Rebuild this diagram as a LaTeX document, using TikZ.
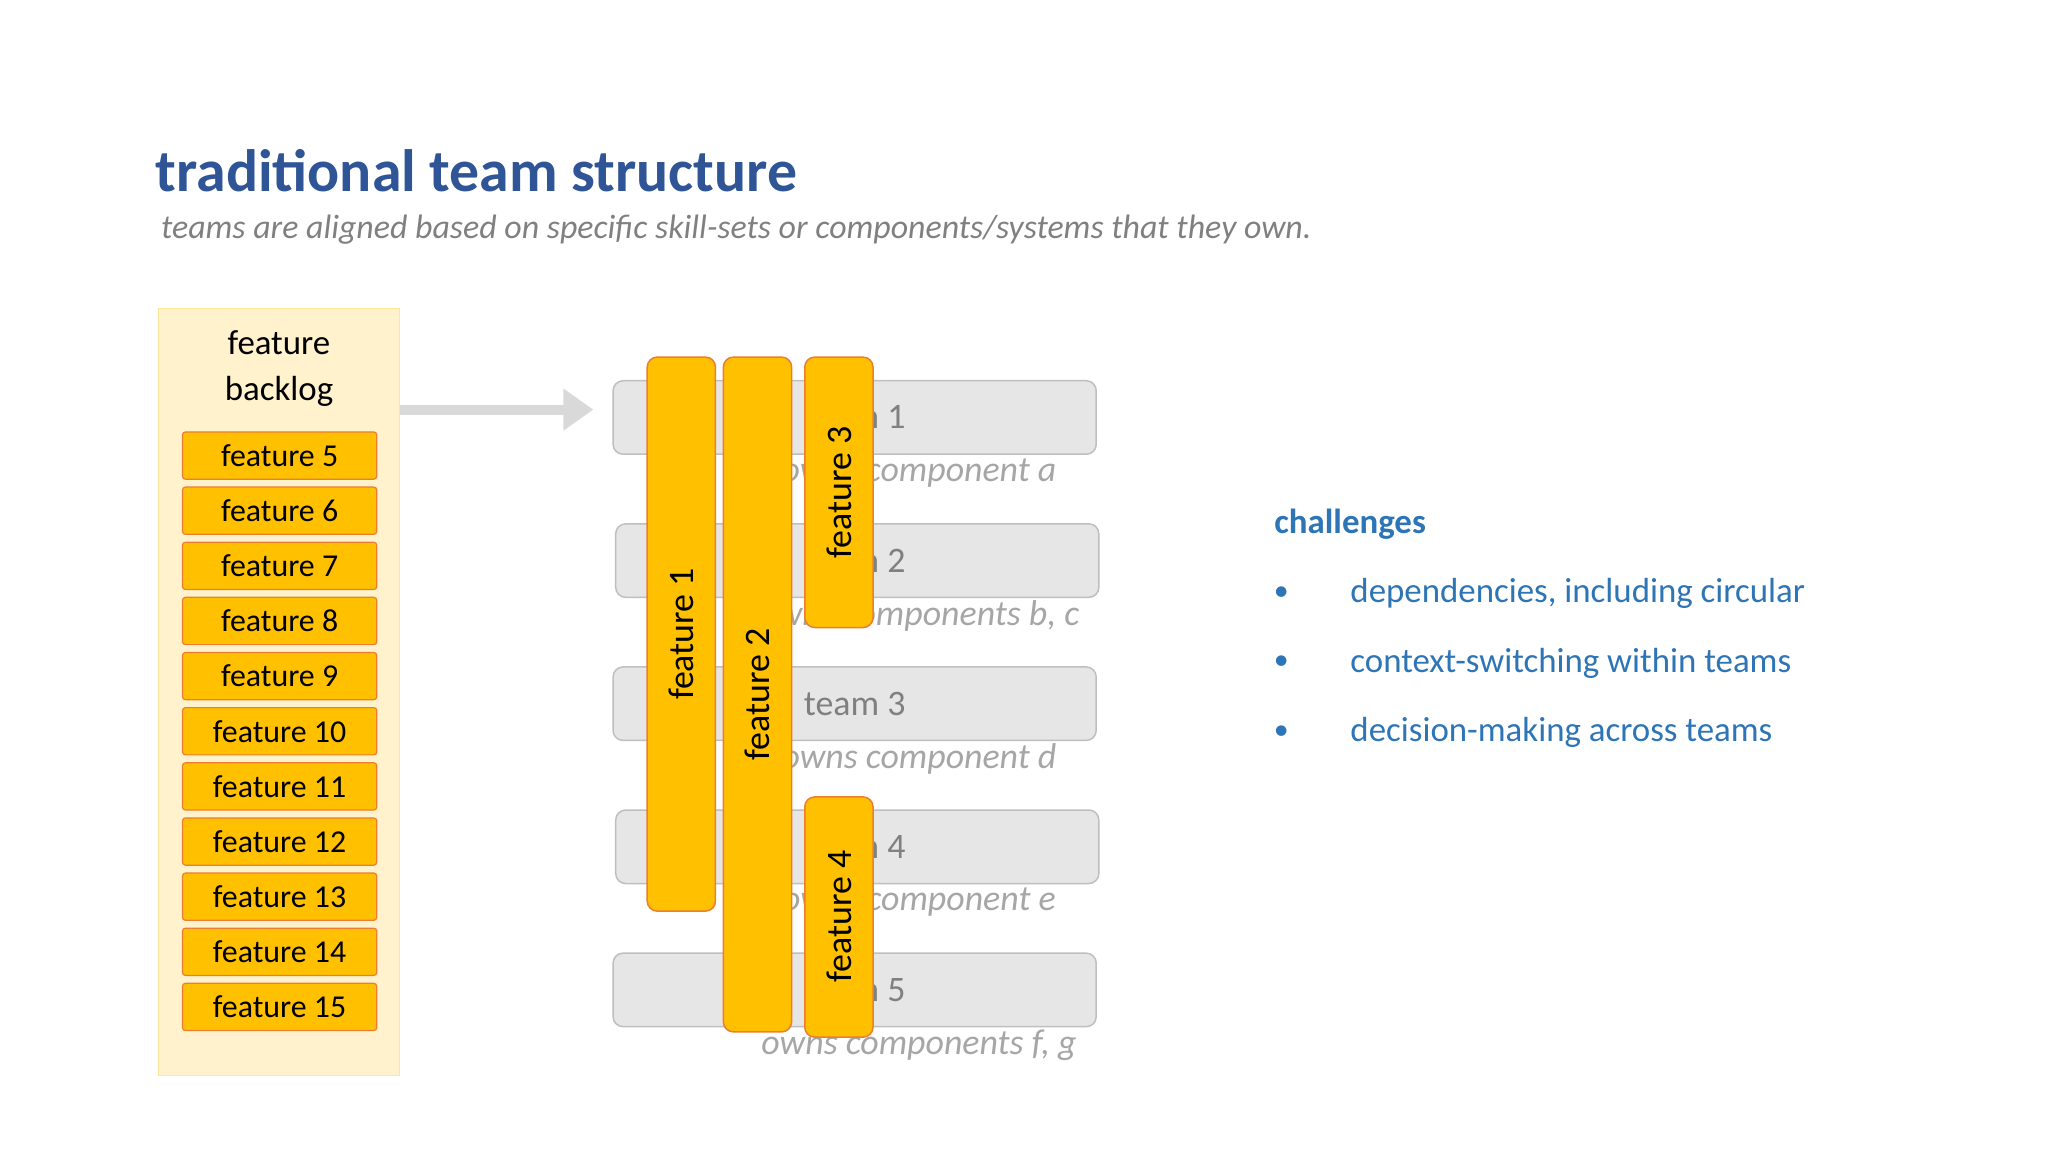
\documentclass[tikz,border=0pt]{standalone}
\usepackage{fontspec}
\setmainfont{Carlito}
\usetikzlibrary{arrows.meta}
\definecolor{titleblue}{HTML}{2F5597}
\definecolor{chblue}{HTML}{2E75B6}
\definecolor{featfill}{HTML}{FFC000}
\definecolor{featedge}{HTML}{ED7D31}
\definecolor{backfill}{HTML}{FFF2CC}
\definecolor{backedge}{HTML}{FFE699}
\definecolor{teamfill}{HTML}{E7E6E6}
\definecolor{teamedge}{HTML}{BFBFBF}
\begin{document}
\begin{tikzpicture}[x=1.3128bp,y=-1.3128bp,
  item/.style={draw=featedge,fill=featfill,rounded corners=3bp,line width=1.2bp,minimum width=148*1.3128bp,minimum height=36*1.3128bp,inner sep=0pt,font=\fontsize{32}{34}\selectfont},
  teambox/.style={draw=teamedge,fill=teamfill,rounded corners=10bp,line width=1.5bp},
  feat/.style={draw=featedge,fill=featfill,rounded corners=10bp,line width=1.5bp},
  teamtxt/.style={text=gray,font=\fontsize{36}{38}\selectfont},
  owntxt/.style={text=gray!70,font=\itshape\fontsize{36}{38}\selectfont},
  ftxt/.style={rotate=90,font=\fontsize{36}{38}\selectfont},
  chtxt/.style={text=chblue,anchor=west,font=\fontsize{35}{37}\selectfont}]
\useasboundingbox (0,0) rectangle (1560,877.5);
\node[anchor=west,text=titleblue,font=\bfseries\fontsize{60}{62}\selectfont] (title) at (116,130) {traditional team structure};
\node[anchor=west,text=gray,font=\itshape\fontsize{34}{36}\selectfont] (sub) at (120,175) {teams are aligned based on specific skill-sets or components/systems that they own.};
% backlog
\draw[draw=backedge,fill=backfill,line width=1.2bp] (121,235) rectangle (304,819);
\node[align=center,font=\fontsize{35}{46}\selectfont] (bl) at (212.5,281) {feature\\backlog};
\foreach \n [count=\i from 0] in {5,...,15}
  \node[item] (it\n) at (213,{347+42*\i}) {feature \n};
\coordinate (a0) at (305,312);
\coordinate (a1) at (452,312);
\draw[draw=gray!30,line width=10bp,-{Triangle[length=30bp,width=40bp]}] (a0) -- (a1);
% teams
\foreach \i/\x/\y/\o in {1/467/290/owns component a,2/469/399/owns components b{,} c,3/467/508/owns component d,4/469/617/owns component e,5/467/726/owns components f{,} g}{
  \draw[teambox] (\x,\y) rectangle ++(368,56);
  \node[teamtxt] (t\i) at (651,\y+28) {team \i};
  \node[owntxt] (o\i) at (700,\y+70) {\o};
}
% features
\draw[feat] (493,272) rectangle (545,694);
\node[ftxt] (f1) at (519,483) {feature 1};
\draw[feat] (551,272) rectangle (603,786);
\node[ftxt] (f2) at (577,529) {feature 2};
\draw[feat] (613,272) rectangle (665,478);
\node[ftxt] (f3) at (639,375) {feature 3};
\draw[feat] (613,607) rectangle (665,790);
\node[ftxt] (f4) at (639,698) {feature 4};
% challenges
\node[anchor=west,text=chblue,font=\bfseries\fontsize{35}{37}\selectfont] (ch) at (968,399) {challenges};
\foreach \t [count=\i from 0] in {dependencies{,} including circular,context-switching within teams,decision-making across teams}{
  \node[text=chblue,font=\fontsize{30}{30}\selectfont] (b\i) at (976,{452+53*\i}) {•};
  \node[chtxt] (c\i) at (1026,{452+53*\i}) {\t};
}
\end{tikzpicture}
\end{document}
